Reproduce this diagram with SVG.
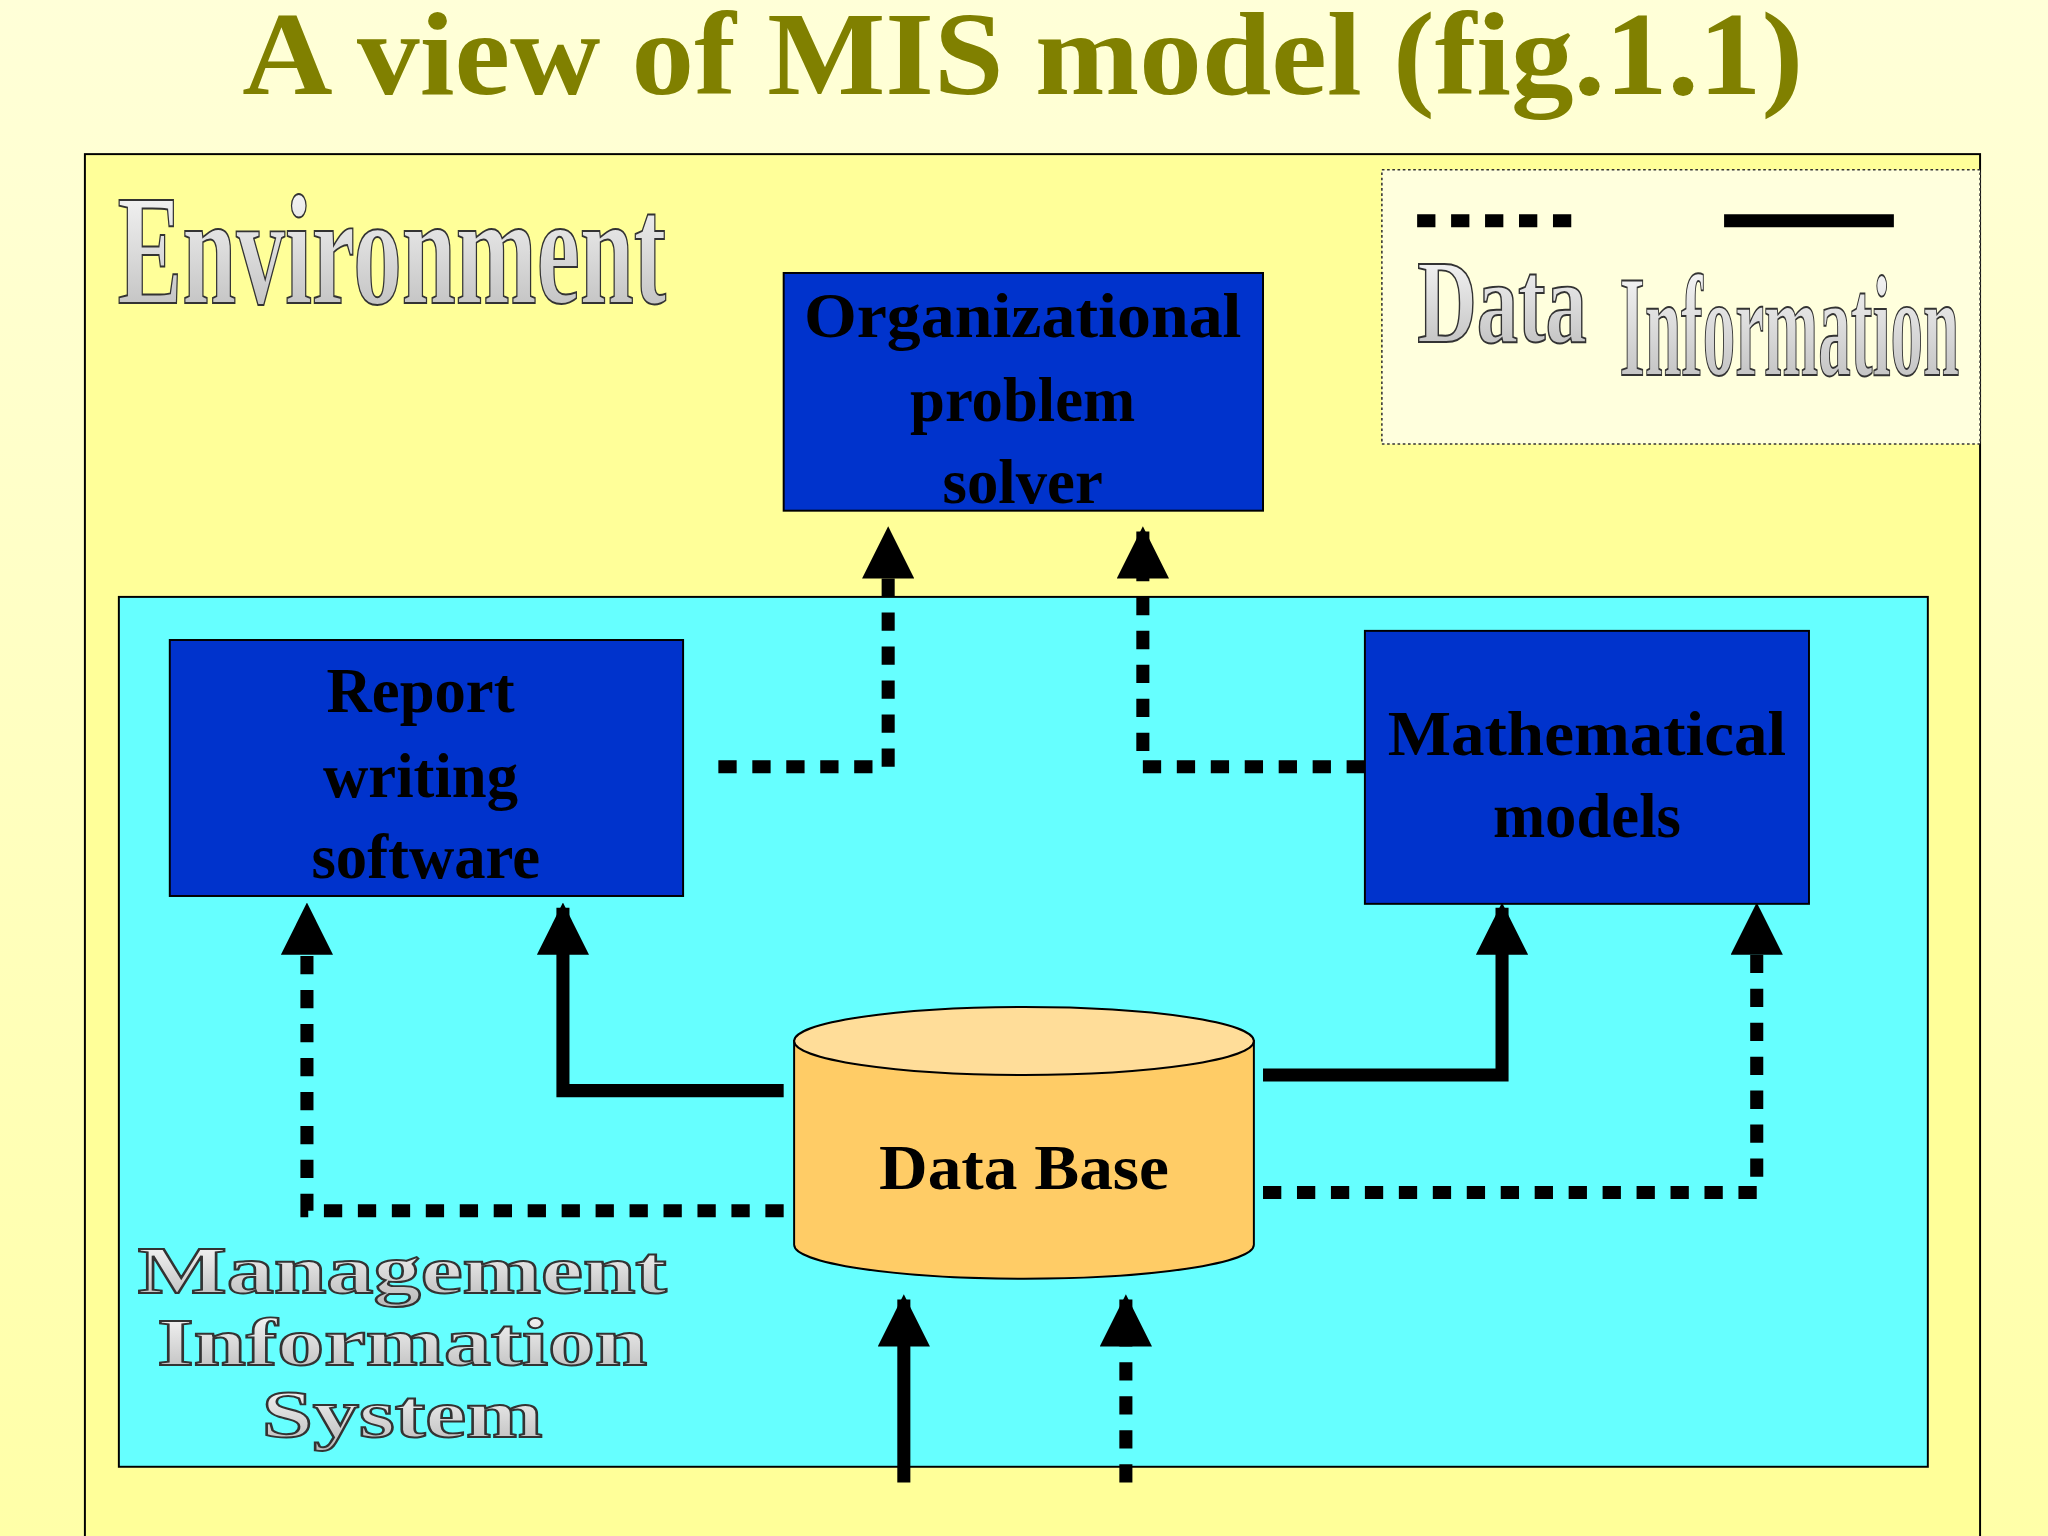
<svg xmlns="http://www.w3.org/2000/svg" width="2048" height="1536" viewBox="0 0 2048 1536">
<defs>
<linearGradient id="bg" x1="0" y1="0" x2="0" y2="1"><stop offset="0" stop-color="#FFFFD8"/><stop offset="1" stop-color="#FFFFA8"/></linearGradient>
<linearGradient id="gr" x1="0" y1="0" x2="0" y2="1"><stop offset="0" stop-color="#FFFFFF"/><stop offset="1" stop-color="#B8B8B8"/></linearGradient>
<marker id="ah" markerWidth="4" markerHeight="4" refX="3.6" refY="2" orient="auto" markerUnits="strokeWidth" viewBox="0 0 4 4"><path d="M0,0 L4,2 L0,4 Z" fill="#000"/></marker>
<style>
.box{fill:#0033CC;stroke:#000;stroke-width:1.5}
.bt{font-family:"Liberation Serif",serif;font-weight:bold;font-size:48px;fill:#000;text-anchor:middle}
.emb{font-family:"Liberation Serif",serif;fill:url(#gr);stroke:#333;stroke-width:1.5}
.c{fill:none;stroke:#000;stroke-width:10}
.d{stroke-dasharray:14 12}
</style>
</defs>
<rect width="2048" height="1536" fill="url(#bg)"/>
<g transform="scale(1.30612)">
<text x="783" y="72" text-anchor="middle" font-family="'Liberation Serif',serif" font-weight="bold" font-size="90" fill="#808000" textLength="1195" lengthAdjust="spacingAndGlyphs">A view of MIS model (fig.1.1)</text>
<rect id="env" x="65" y="118" width="1451" height="1070" fill="#FFFF99" stroke="#000" stroke-width="1.5"/>
<text class="emb" x="90" y="232" font-size="120" font-weight="bold" textLength="420" lengthAdjust="spacingAndGlyphs">Environment</text>
<g id="legend">
<rect x="1058" y="130" width="458" height="210" fill="#FFFFDD" stroke="#333" stroke-width="1.2" stroke-dasharray="2 2"/>
<line x1="1085" y1="169" x2="1215" y2="169" class="c d" stroke-width="12" stroke-dasharray="14 10"/>
<line x1="1320" y1="169" x2="1450" y2="169" class="c" stroke-width="12"/>
<text class="emb" x="1085" y="262" font-size="90" font-weight="bold" textLength="130" lengthAdjust="spacingAndGlyphs">Data</text>
<text class="emb" x="1240" y="287" font-size="110" font-weight="bold" textLength="260" lengthAdjust="spacingAndGlyphs">Information</text>
</g>
<g id="org"><rect class="box" x="600" y="209" width="367" height="182"/>
<text class="bt" x="783" y="258" textLength="335" lengthAdjust="spacingAndGlyphs">Organizational</text><text class="bt" x="783" y="322">problem</text><text class="bt" x="783" y="385">solver</text></g>
<rect id="mis" x="91" y="457" width="1385" height="666" fill="#66FFFF" stroke="#000" stroke-width="1.5"/>
<g id="mislabel"><text class="emb" x="308" y="990" font-size="52" font-weight="bold" text-anchor="middle" textLength="405" lengthAdjust="spacingAndGlyphs">Management</text>
<text class="emb" x="308" y="1045" font-size="52" font-weight="bold" text-anchor="middle" textLength="375" lengthAdjust="spacingAndGlyphs">Information</text>
<text class="emb" x="308" y="1100" font-size="52" font-weight="bold" text-anchor="middle" textLength="215" lengthAdjust="spacingAndGlyphs">System</text></g>
<g id="report"><rect class="box" x="130" y="490" width="393" height="196"/>
<text class="bt" x="322" y="545">Report</text><text class="bt" x="322" y="610">writing</text><text class="bt" x="326" y="672">software</text></g>
<g id="math"><rect class="box" x="1045" y="483" width="340" height="209"/>
<text class="bt" x="1215" y="578" textLength="305" lengthAdjust="spacingAndGlyphs">Mathematical</text><text class="bt" x="1215" y="641">models</text></g>
<g id="db">
<path d="M608,797 L608,953 A176,26 0 0 0 960,953 L960,797 Z" fill="#FFCC66" stroke="#000" stroke-width="1.5"/>
<ellipse cx="784" cy="797" rx="176" ry="26" fill="#FFDD99" stroke="#000" stroke-width="1.5"/>
<text class="bt" x="784" y="910" textLength="222" lengthAdjust="spacingAndGlyphs">Data Base</text></g>
<g id="connectors">
<path class="c d" d="M550,587 H680 V407" marker-end="url(#ah)"/>
<path class="c d" d="M1045,587 H875 V407" marker-end="url(#ah)"/>
<path class="c" d="M600,835 H431 V695" marker-end="url(#ah)"/>
<path class="c d" d="M600,927 H235 V695" marker-end="url(#ah)"/>
<path class="c" d="M967,823 H1150 V695" marker-end="url(#ah)"/>
<path class="c d" d="M967,913 H1345 V695" marker-end="url(#ah)"/>
<path class="c" d="M692,1135 V995" marker-end="url(#ah)"/>
<path class="c d" d="M862,1135 V995" marker-end="url(#ah)"/>
</g>
</g>
</svg>
